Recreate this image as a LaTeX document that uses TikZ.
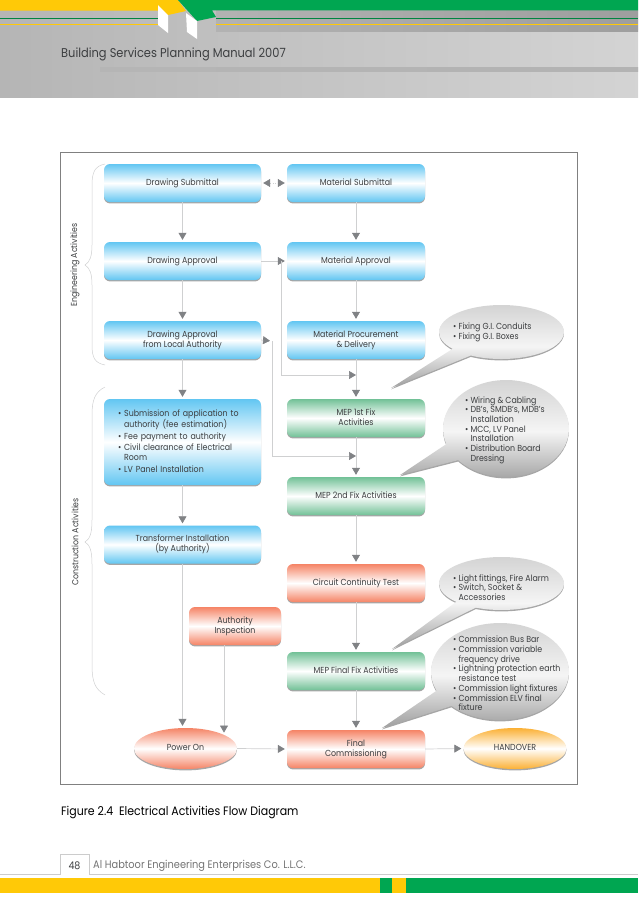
\documentclass[tikz,border=0pt]{standalone}
\usepackage{fontspec}
\setmainfont{Poppins}[FakeStretch=0.9]
\usetikzlibrary{calc,arrows.meta,shadows,shapes.geometric,shapes.callouts}

\definecolor{inkgray}{HTML}{3C3E40}
\definecolor{linegray}{HTML}{CFD0D1}
\definecolor{tipgray}{HTML}{808285}
\definecolor{bandyellow}{HTML}{FFC907}
\definecolor{bandgreen}{HTML}{00A651}
\definecolor{boxblue}{HTML}{62C6F2}
\definecolor{boxgreen}{HTML}{72C197}
\definecolor{boxred}{HTML}{F58466}
\definecolor{boxorange}{HTML}{FBB034}

\newcommand{\itm}[1]{\textbullet\ #1}
\newcommand{\cnt}[1]{\phantom{\textbullet\ }#1}

\tikzset{
  every node/.style={font=\fontsize{8.75}{9.7}\selectfont,text=inkgray},
  soft/.style={drop shadow={shadow xshift=0pt,shadow yshift=-1.4pt,fill=black,opacity=.35}},
  even/.style={execute at begin node=\vphantom{Ag},execute at end node=\vphantom{Ag}},
  box/.style={rectangle,rounded corners=6pt,minimum width=157pt,minimum height=38pt,
    inner sep=0pt,align=center,soft,even,top color=#1,bottom color=#1,middle color=white},
  small/.style={minimum width=138pt},
  oval/.style={ellipse,minimum width=103pt,minimum height=41pt,inner sep=0pt,
    soft,even,top color=#1,bottom color=#1,middle color=white},
  bubble/.style={ellipse callout,inner sep=0pt,callout pointer arc=22,
    soft,top color=black!17,bottom color=black!38,middle color=black!4},
  note/.style={anchor=west,align=left,inner sep=0pt},
  flow/.style={draw=linegray,line width=.7pt,shorten >=2pt,
    -{Triangle[width=8pt,length=7pt,color=tipgray]}},
  both/.style={draw=linegray,line width=.5pt,dotted,shorten >=2pt,shorten <=2pt,
    {Triangle[width=8pt,length=7pt,color=tipgray]}-{Triangle[width=8pt,length=7pt,color=tipgray]}},
  wire/.style={draw=linegray,line width=.7pt},
  curly/.style={draw=linegray,line width=.5pt},
}

\begin{document}
\begin{tikzpicture}[x=1pt,y=-1pt]
\useasboundingbox (0,0) rectangle (638,903);
\def\lx{182.5} %left column
\def\rx{356} %right column

% page header
\shade[left color=black!29,right color=black!17] (0,0) rectangle (638,97);
\shade[left color=black!29,right color=black!30] (100,67) rectangle (638,71);
\shade[left color=black!30,right color=black!38] (216,10) rectangle (638,31);
\foreach \a/\b in {0/158,216/638}
{
\draw[bandgreen!80!black,line width=.5pt] (\a,18.7) -- (\b,18.7);
\draw[bandyellow,line width=.7pt] (\a,24) -- (\b,24);
}
\fill[bandyellow] (0,0) -- (178,0) -- (186,11) -- (168,15) -- (158,10.7) -- (0,10.7) -- cycle;
\fill[bandgreen] (178,0) -- (638,0) -- (638,10.3) -- (212,10.3) -- (216,17) -- (197,21) -- cycle;
\fill[white] (158,5) -- (168,15) -- (168,33) -- (158,25) -- cycle;
\fill[white] (186,13) -- (197,21) -- (197,39) -- (187,32) -- cycle;
\node[anchor=west,inner sep=0pt,font=\fontsize{12.7}{15}\selectfont] (title) at (61,54.5) {Building Services Planning Manual 2007};

% frame of the figure
\draw[black!50,line width=.9pt] (60,152) rectangle (577,784);

% curly brackets
\draw[curly] (105,164) .. controls (95,166) and (92,172) .. (92,185)
  -- (92,245) .. controls (92,256) and (90,262) .. (85,265)
  .. controls (90,268) and (92,274) .. (92,285)
  -- (92,345) .. controls (92,358) and (95,363) .. (105,365);
\draw[curly] (105,387) .. controls (95,392) and (92,400) .. (92,415)
  -- (92,520) .. controls (92,533) and (90,539) .. (85,542)
  .. controls (90,545) and (92,551) .. (92,564)
  -- (92,665) .. controls (92,682) and (95,689) .. (105,695);
\node[rotate=90] (enga) at (75,265) {Engineering Activities};
\node[rotate=90] (cona) at (75,542) {Construction Activities};

% left column
\node[box=boxblue] (ds) at (\lx,183) {Drawing Submittal};
\node[box=boxblue] (da) at (\lx,261) {Drawing Approval};
\node[box=boxblue] (dl) at (\lx,340) {Drawing Approval\\from Local Authority};
\node[box=boxblue,minimum height=86pt,text width=129pt,align=left] (sub) at (\lx,442)
{
    \itm{Submission of application to}\\
    \cnt{authority (fee estimation)}\\[2pt]
    \itm{Fee payment to authority}\\[2pt]
    \itm{Civil clearance of Electrical}\\
    \cnt{Room}\\[2pt]
    \itm{LV Panel Installation}
};
\node[box=boxblue] (tr) at (\lx,544.5) {Transformer Installation\\(by Authority)};
\node[box=boxred,minimum width=92pt] (auth) at (235,626) {Authority\\Inspection};
\node[oval=boxred] (pw) at (185.5,748.5) {Power On};

% right column
\node[box=boxblue,small] (ms) at (\rx,183) {Material Submittal};
\node[box=boxblue,small] (ma) at (\rx,261) {Material Approval};
\node[box=boxblue,small] (mp) at (\rx,340) {Material Procurement\\\& Delivery};
\node[box=boxgreen,small] (f1) at (\rx,418) {MEP 1st Fix\\Activities};
\node[box=boxgreen,small] (f2) at (\rx,496) {MEP 2nd Fix Activities};
\node[box=boxred,small] (cc) at (\rx,583) {Circuit Continuity Test};
\node[box=boxgreen,small] (ff) at (\rx,671) {MEP Final Fix Activities};
\node[box=boxred,small] (fc) at (\rx,749) {Final\\Commissioning};
\node[oval=boxorange] (ho) at (515,748.5) {HANDOVER};

% free corners of the branches
\coordinate (j1) at (281,261);
\coordinate (j2) at (281,375);
\coordinate (j3) at (\rx,375);
\coordinate (k1) at (272,341);
\coordinate (k2) at (272,456);
\coordinate (k3) at (\rx,456);
\coordinate (a1) at (224,645);

% connectors
\foreach \s/\t in {ds/da,da/dl,dl/sub,sub/tr,ms/ma,ma/mp,mp/f1,f1/f2,f2/cc,cc/ff,ff/fc}
{
\draw[flow] (\s.south) -- (\t.north);
}
\draw[flow] (tr.south) -- (tr.south |- pw.north);
\draw[flow] (a1) -- (a1 |- pw.20);
\draw[both] (ds.east) -- (ms.west);
\draw[flow] (da.east) -- (ma.west);
\draw[wire] (j1) -- (j2);
\draw[flow,shorten >=0pt] (j2) -- (j3);
\draw[flow] (dl.east) -- (k1);
\draw[wire] (k1) -- (k2);
\draw[flow,shorten >=0pt] (k2) -- (k3);
\draw[flow] (pw.east) -- (fc.west);
\draw[flow] (fc.east) -- (ho.west);

% speech bubbles
\node[bubble,minimum width=125pt,minimum height=54pt,callout absolute pointer={(391,388)}] (b1) at (501.5,332) {};
\node[bubble,minimum width=126pt,minimum height=97pt,callout absolute pointer={(400,475)}] (b2) at (506,428.5) {};
\node[bubble,minimum width=125pt,minimum height=53pt,callout absolute pointer={(392,649)}] (b3) at (501.5,583.5) {};
\node[bubble,minimum width=138pt,minimum height=97pt,callout absolute pointer={(382,728)}] (b4) at (500,671.5) {};

\node[note] (t1) at (453,332.5) {\itm{Fixing G.I. Conduits}\\\itm{Fixing G.I. Boxes}};
\node[note] (t2) at (465,430)
{
    \itm{Wiring \& Cabling}\\
    \itm{DB's, SMDB's, MDB's}\\
    \cnt{Installation}\\
    \itm{MCC, LV Panel}\\
    \cnt{Installation}\\
    \itm{Distribution Board}\\
    \cnt{Dressing}
};
\node[note] (t3) at (453,587.5)
{
    \itm{Light fittings, Fire Alarm}\\
    \itm{Switch, Socket \&}\\
    \cnt{Accessories}
};
\node[note] (t4) at (453,673.5)
{
    \itm{Commission Bus Bar}\\
    \itm{Commission variable}\\
    \cnt{frequency drive}\\
    \itm{Lightning protection earth}\\
    \cnt{resistance test}\\
    \itm{Commission light fixtures}\\
    \itm{Commission ELV final}\\
    \cnt{fixture}
};

% caption and page footer
\node[anchor=west,inner sep=0pt,font=\fontsize{12.2}{14}\selectfont,text=black] (cap) at (61,812) {Figure 2.4\ \ Electrical Activities Flow Diagram};
\draw[black!20,line width=.8pt] (0,874) -- (60,874) -- (60,854) -- (89,854) -- (89,874) -- (638,874);
\node[inner sep=0pt,font=\fontsize{10.5}{12}\selectfont] (pg) at (74.5,866) {48};
\node[anchor=west,inner sep=0pt,font=\fontsize{10.9}{12}\selectfont,text=black!55] (co) at (93,866) {Al Habtoor Engineering Enterprises Co. L.L.C.};
\fill[bandyellow] (0,878) rectangle (380,893);
\fill[bandgreen] (380,878) rectangle (392,893);
\fill[bandyellow] (392,878) rectangle (406,893);
\fill[bandgreen] (406,878) rectangle (638,893);
\end{tikzpicture}
\end{document}
